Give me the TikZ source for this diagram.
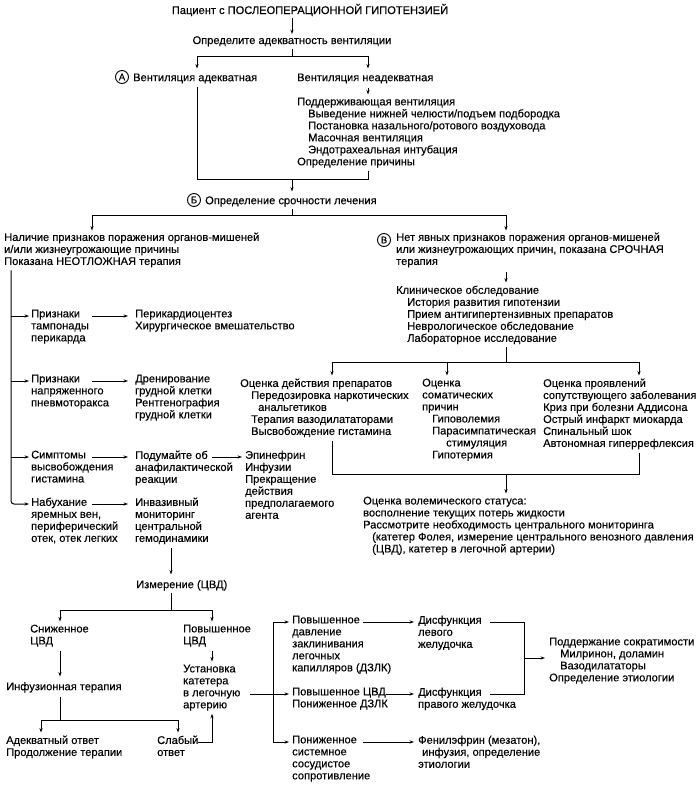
\documentclass[tikz,border=0pt]{standalone}
\usepackage{fontspec}
\setmainfont{Liberation Sans}[FakeBold=0.25]
\usetikzlibrary{arrows.meta,calc}
\newcommand\fnt{\fontsize{11.1}{12}\selectfont}
\newcommand\ind{\hspace*{11pt}}
\newcommand\stt{\rule{0pt}{10.5pt}}
\begin{document}
\begin{tikzpicture}[x=1pt,y=-1pt,
  txt/.style={anchor=north west,yshift=10.5pt,inner sep=0pt,align=left,font=\fnt,execute at begin node=\stt},
  ctr/.style={anchor=base,inner sep=0pt,font=\fnt},
  ln/.style={line width=1pt},
  arr/.style={ln,-{Stealth[length=4.5pt,width=3.2pt]}},
  circ/.style={circle,draw,line width=0.9pt,inner sep=0pt,minimum size=13pt,font=\fontsize{9.5}{10}\selectfont}]
\useasboundingbox (0,0) rectangle (700,785);
% top
\node[ctr] (nt) at (310,14) {Пациент с ПОСЛЕОПЕРАЦИОННОЙ ГИПОТЕНЗИЕЙ};
\node[ctr] (n1) at (292,44) {Определите адекватность вентиляции};
\draw[arr,shorten <=2pt,shorten >=2pt] (nt.south -| n1.north) -- (n1.north);
\coordinate (s1) at (292,56);
\coordinate (aL) at (197,56);
\coordinate (aR) at (368,56);
\node[circ] (cA) at (122,77) {А};
\node[txt] (nA) at (133,81) {Вентиляция адекватная};
\node[txt] (nN) at (297,81) {Вентиляция неадекватная};
\node[txt] (nS) at (297,108) {Поддерживающая вентиляция\\
\ind Выведение нижней челюсти/подъем подбородка\\
\ind Постановка назального/ротового воздуховода\\
\ind Масочная вентиляция\\
\ind Эндотрахеальная интубация\\
Определение причины};
\draw[ln,shorten <=2pt] (n1.south) -- (s1);
\draw[ln] (aL) -- (aR);
\draw[arr,shorten >=2pt] (aL) -- (aL |- nA.north);
\draw[arr,shorten >=2pt] (aR) -- (aR |- nN.north);
\draw[arr,shorten <=4pt,shorten >=3pt] (aR |- nN.south) -- (aR |- nS.north);
\coordinate (bL) at (197,179);
\coordinate (bR) at (368,179);
\coordinate (bM) at (292,179);
\node[circ] (cB) at (194,200) {Б};
\node[txt] (nB) at (205,204) {Определение срочности лечения};
\draw[ln,shorten <=3pt] (aL |- nA.south) -- (bL) -- (bR) -- ([yshift=-3pt]bR |- nS.south);
\draw[arr,shorten >=2pt] (bM) -- (bM |- nB.north);
% second split
\coordinate (cM) at (292,215);
\coordinate (cL) at (92,215);
\coordinate (cR) at (506,215);
\node[txt] (nU) at (4,243) {Наличие признаков поражения органов-мишеней\\
и/или жизнеугрожающие причины\\
Показана НЕОТЛОЖНАЯ терапия};
\node[circ] (cV) at (384,240) {В};
\node[txt] (nV) at (396,243) {Нет явных признаков поражения органов-мишеней\\
или жизнеугрожающих причин, показана СРОЧНАЯ\\
терапия};
\draw[ln,shorten <=2pt] (bM |- nB.south) -- (cM);
\draw[ln] (cL) -- (cR);
\draw[arr,shorten >=2pt] (cL) -- (cL |- nU.north);
\draw[arr,shorten >=2pt] (cR) -- (cR |- nV.north);
% right branch
\node[txt] (nK) at (396,296) {Клиническое обследование\\
\ind История развития гипотензии\\
\ind Прием антигипертензивных препаратов\\
\ind Неврологическое обследование\\
\ind Лабораторное исследование};
\draw[arr,shorten <=5pt,shorten >=3pt] (cR |- nV.south) -- (cR |- nK.north);
\coordinate (dM) at (506,362);
\coordinate (dL) at (332,362);
\coordinate (dC) at (447,362);
\coordinate (dR) at (639,362);
\node[txt] (nD1) at (240,389) {Оценка действия препаратов\\
\ind Передозировка наркотических\\
\ind\hspace*{7pt}анальгетиков\\
\ind Терапия вазодилататорами\\
\ind Высвобождение гистамина};
\node[txt] (nD2) at (422,389) {Оценка\\
соматических\\
причин\\
\hspace*{10pt}Гиповолемия\\
\hspace*{10pt}Парасимпатическая\\
\hspace*{24pt}стимуляция\\
\hspace*{10pt}Гипотермия};
\node[txt] (nD3) at (543,389) {Оценка проявлений\\
сопутствующего заболевания\\
Криз при болезни Аддисона\\
Острый инфаркт миокарда\\
Спинальный шок\\
Автономная гиперрефлексия};
\draw[ln,shorten <=3pt] (nK.south -| dM) -- (dM);
\draw[ln] (dL) -- (dR);
\draw[arr,shorten >=3pt] (dL) -- (dL |- nD1.north);
\draw[arr,shorten >=3pt] (dC) -- (dC |- nD2.north);
\draw[arr,shorten >=3pt] (dR) -- (dR |- nD3.north);
\coordinate (eL) at (332,474);
\coordinate (eR) at (639,474);
\coordinate (eM) at (506,474);
\node[txt] (nE) at (363,507) {Оценка волемического статуса:\\
восполнение текущих потерь жидкости\\
Рассмотрите необходимость центрального мониторинга\\
\hspace*{9pt}(катетер Фолея, измерение центрального венозного давления\\
\hspace*{9pt}(ЦВД), катетер в легочной артерии)};
\draw[ln,shorten <=4pt] (dL |- nD1.south) -- (eL) -- (eR) -- ([yshift=-4pt]eR |- nD3.south);
\draw[arr,shorten >=3pt] (eM) -- (eM |- nE.north);
% left branch
\coordinate (colL) at (11,0);
\coordinate (colA) at (92,0);
\coordinate (colE) at (212,0);
\coordinate (r1) at (11,316);
\coordinate (r2) at (11,381);
\coordinate (r3) at (11,457);
\coordinate (r4) at (11,504);
\node[txt] (P1) at (31,320) {Признаки\\тампонады\\перикарда};
\node[txt] (Q1) at (135,320) {Перикардиоцентез\\Хирургическое вмешательство};
\node[txt] (P2) at (31,385) {Признаки\\напряженного\\пневмоторакса};
\node[txt] (Q2) at (135,385) {Дренирование\\грудной клетки\\Рентгенография\\грудной клетки};
\node[txt] (P3) at (31,461) {Симптомы\\высвобождения\\гистамина};
\node[txt] (Q3) at (135,461) {Подумайте об\\анафилактической\\реакции};
\node[txt] (R3) at (245,461) {Эпинефрин\\Инфузии\\Прекращение\\действия\\предполагаемого\\агента};
\node[txt] (P4) at (31,508) {Набухание\\яремных вен,\\периферический\\отек, отек легких};
\node[txt] (Q4) at (135,508) {Инвазивный\\мониторинг\\центральной\\гемодинамики};
\draw[arr,rounded corners=3pt,shorten <=3pt,shorten >=2pt] (nU.south -| colL) -- (r4) -- (r4 -| P4.west);
\draw[arr,shorten >=2pt] (r1) -- (r1 -| P1.west);
\draw[arr,shorten >=2pt] (r2) -- (r2 -| P2.west);
\draw[arr,shorten >=2pt] (r3) -- (r3 -| P3.west);
\draw[arr,shorten >=7pt] (r1 -| colA) -- (r1 -| Q1.west);
\draw[arr,shorten >=7pt] (r2 -| colA) -- (r2 -| Q2.west);
\draw[arr,shorten >=7pt] (r3 -| colA) -- (r3 -| Q3.west);
\draw[arr,shorten >=7pt] (r4 -| colA) -- (r4 -| Q4.west);
\draw[arr,shorten >=3pt] (r3 -| colE) -- (r3 -| R3.west);
% lower left
\coordinate (colM) at (171,0);
\node[txt] (M) at (136,588) {Измерение (ЦВД)};
\draw[arr,shorten <=4pt,shorten >=3pt] (Q4.south -| colM) -- (colM |- M.north);
\coordinate (fM) at (171,610);
\coordinate (fL) at (60,610);
\coordinate (fR) at (212,610);
\node[txt] (N1) at (30,635) {Сниженное\\ЦВД};
\node[txt] (N2) at (183,635) {Повышенное\\ЦВД};
\draw[ln,shorten <=2pt] (M.south -| fM) -- (fM);
\draw[ln] (fL) -- (fR);
\draw[arr,shorten >=3pt] (fL) -- (fL |- N1.north);
\draw[arr,shorten >=3pt] (fR) -- (fR |- N2.north);
\node[txt] (N3) at (183,675) {Установка\\катетера\\в легочную\\артерию};
\node[txt] (N4) at (6,690) {Инфузионная терапия};
\draw[arr,shorten <=4pt,shorten >=3pt] (fR |- N2.south) -- (fR |- N3.north);
\draw[arr,shorten <=4pt,shorten >=3pt] (fL |- N1.south) -- (fL |- N4.north);
\coordinate (gM) at (60,720);
\coordinate (gL) at (41,720);
\coordinate (gR) at (178,720);
\node[txt] (N5) at (6,746) {Адекватный ответ\\Продолжение терапии};
\node[txt] (N6) at (157,746) {Слабый\\ответ};
\draw[ln,shorten <=4pt] (fL |- N4.south) -- (gM);
\draw[ln] (gL) -- (gR);
\draw[arr,shorten >=3pt] (gL) -- (gL |- N5.north);
\draw[arr,shorten >=3pt] (gR) -- (gR |- N6.north);
\coordinate (w1) at (198,742);
\coordinate (w2) at (212,742);
\draw[arr,shorten >=3pt] (w1) -- (w2) -- (w2 |- N3.south);
% lower right
\coordinate (h0) at (250,694);
\coordinate (h1) at (273,694);
\coordinate (k1) at (273,622);
\coordinate (k3) at (273,742);
\node[txt] (O1) at (292,626) {Повышенное\\давление\\заклинивания\\легочных\\капилляров (ДЗЛК)};
\node[txt] (O2) at (292,698) {Повышенное ЦВД\\Пониженное ДЗЛК};
\node[txt] (O3) at (292,746) {Пониженное\\системное\\сосудистое\\сопротивление};
\node[txt] (D1) at (418,626) {Дисфункция\\левого\\желудочка};
\node[txt] (D2) at (418,698) {Дисфункция\\правого желудочка};
\node[txt] (F) at (418,746) {Фенилэфрин (мезатон),\\\hspace*{4pt}инфузия, определение\\этиологии};
\node[txt] (G) at (549,648) {Поддержание сократимости\\
\ind Милринон, доламин\\
\ind Вазодилататоры\\
Определение этиологии};
\draw[ln] (h0) -- (h1);
\draw[ln] (k1) -- (k3);
\draw[arr,shorten >=3pt] (k1) -- (k1 -| O1.west);
\draw[arr,shorten >=3pt] (h1) -- (h1 -| O2.west);
\draw[arr,shorten >=3pt] (k3) -- (k3 -| O3.west);
\coordinate (x1) at (363,622);
\coordinate (x2) at (386,694);
\coordinate (x3) at (363,742);
\draw[arr,shorten >=4pt] (x1) -- (x1 -| D1.west);
\draw[arr,shorten >=4pt] (x2) -- (x2 -| D2.west);
\draw[arr,shorten >=4pt] (x3) -- (x3 -| F.west);
\coordinate (y1) at (490,622);
\coordinate (y2) at (490,694);
\coordinate (yT) at (524,622);
\coordinate (yB) at (524,694);
\coordinate (yM) at (524,658);
\draw[ln] (y1) -- (yT) -- (yB) -- (y2);
\draw[arr,shorten >=4pt] (yM) -- (yM -| G.west);
\end{tikzpicture}
\end{document}
